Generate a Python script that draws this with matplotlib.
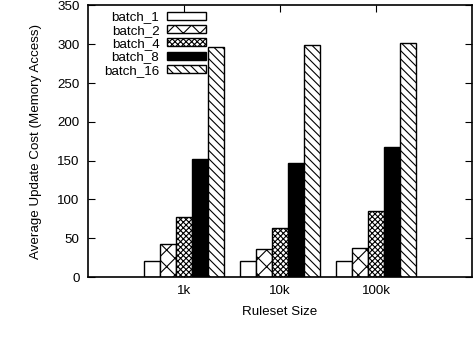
import matplotlib
matplotlib.use("Agg")
import matplotlib.pyplot as plt
import numpy as np

plt.rcParams['font.family'] = ['Liberation Sans', 'DejaVu Sans']
plt.rcParams['hatch.linewidth'] = 0.8

categories = ["1k", "10k", "100k"]
series_names = ["batch_1", "batch_2", "batch_4", "batch_8", "batch_16"]
batch_1 = [20, 20, 20]
batch_2 = [43, 36, 37]
batch_4 = [77, 63, 85]
batch_8 = [152, 147, 168]
batch_16 = [296, 299, 302]
values = [batch_1, batch_2, batch_4, batch_8, batch_16]

hatches = ["", "xx", "xxxxxx", "", "\\\\\\\\"]
faces = ["white", "white", "white", "black", "white"]

fs = 9.6
fig = plt.figure(figsize=(4.74, 3.45), dpi=100)
ax = fig.add_axes([88/474, 1-277/345, (472-88)/474, (277-5.4)/345])

x = np.arange(1, len(categories)+1)
w = 0.165
for i, (name, vals) in enumerate(zip(series_names, values)):
    offs = (i - 2) * w
    ax.bar(x + offs, vals, width=w, facecolor=faces[i], edgecolor="black",
           hatch=hatches[i], linewidth=1.0, label=name, zorder=2)

ax.set_xlim(0, 4)
ax.set_ylim(0, 350)
ax.set_xticks(x)
ax.set_xticklabels(categories)
ax.set_yticks(np.arange(0, 351, 50))
ax.tick_params(direction="in", length=5, width=0.8, top=True, right=True,
               labelsize=fs, pad=6)
for s in ax.spines.values():
    s.set_linewidth(1.2)
ax.set_xlabel("Ruleset Size", fontsize=fs, labelpad=6)
ax.set_ylabel("Average Update Cost (Memory Access)", fontsize=fs, labelpad=11)

leg = ax.legend(loc="upper right", bbox_to_anchor=(206/474, 1-11.5/345),
                bbox_transform=fig.transFigure, frameon=False, markerfirst=False,
                fontsize=fs, handlelength=2.9, handleheight=0.55, labelspacing=0.1,
                handletextpad=0.6, borderpad=0, borderaxespad=0)

fig.savefig("out.png", dpi=100)
